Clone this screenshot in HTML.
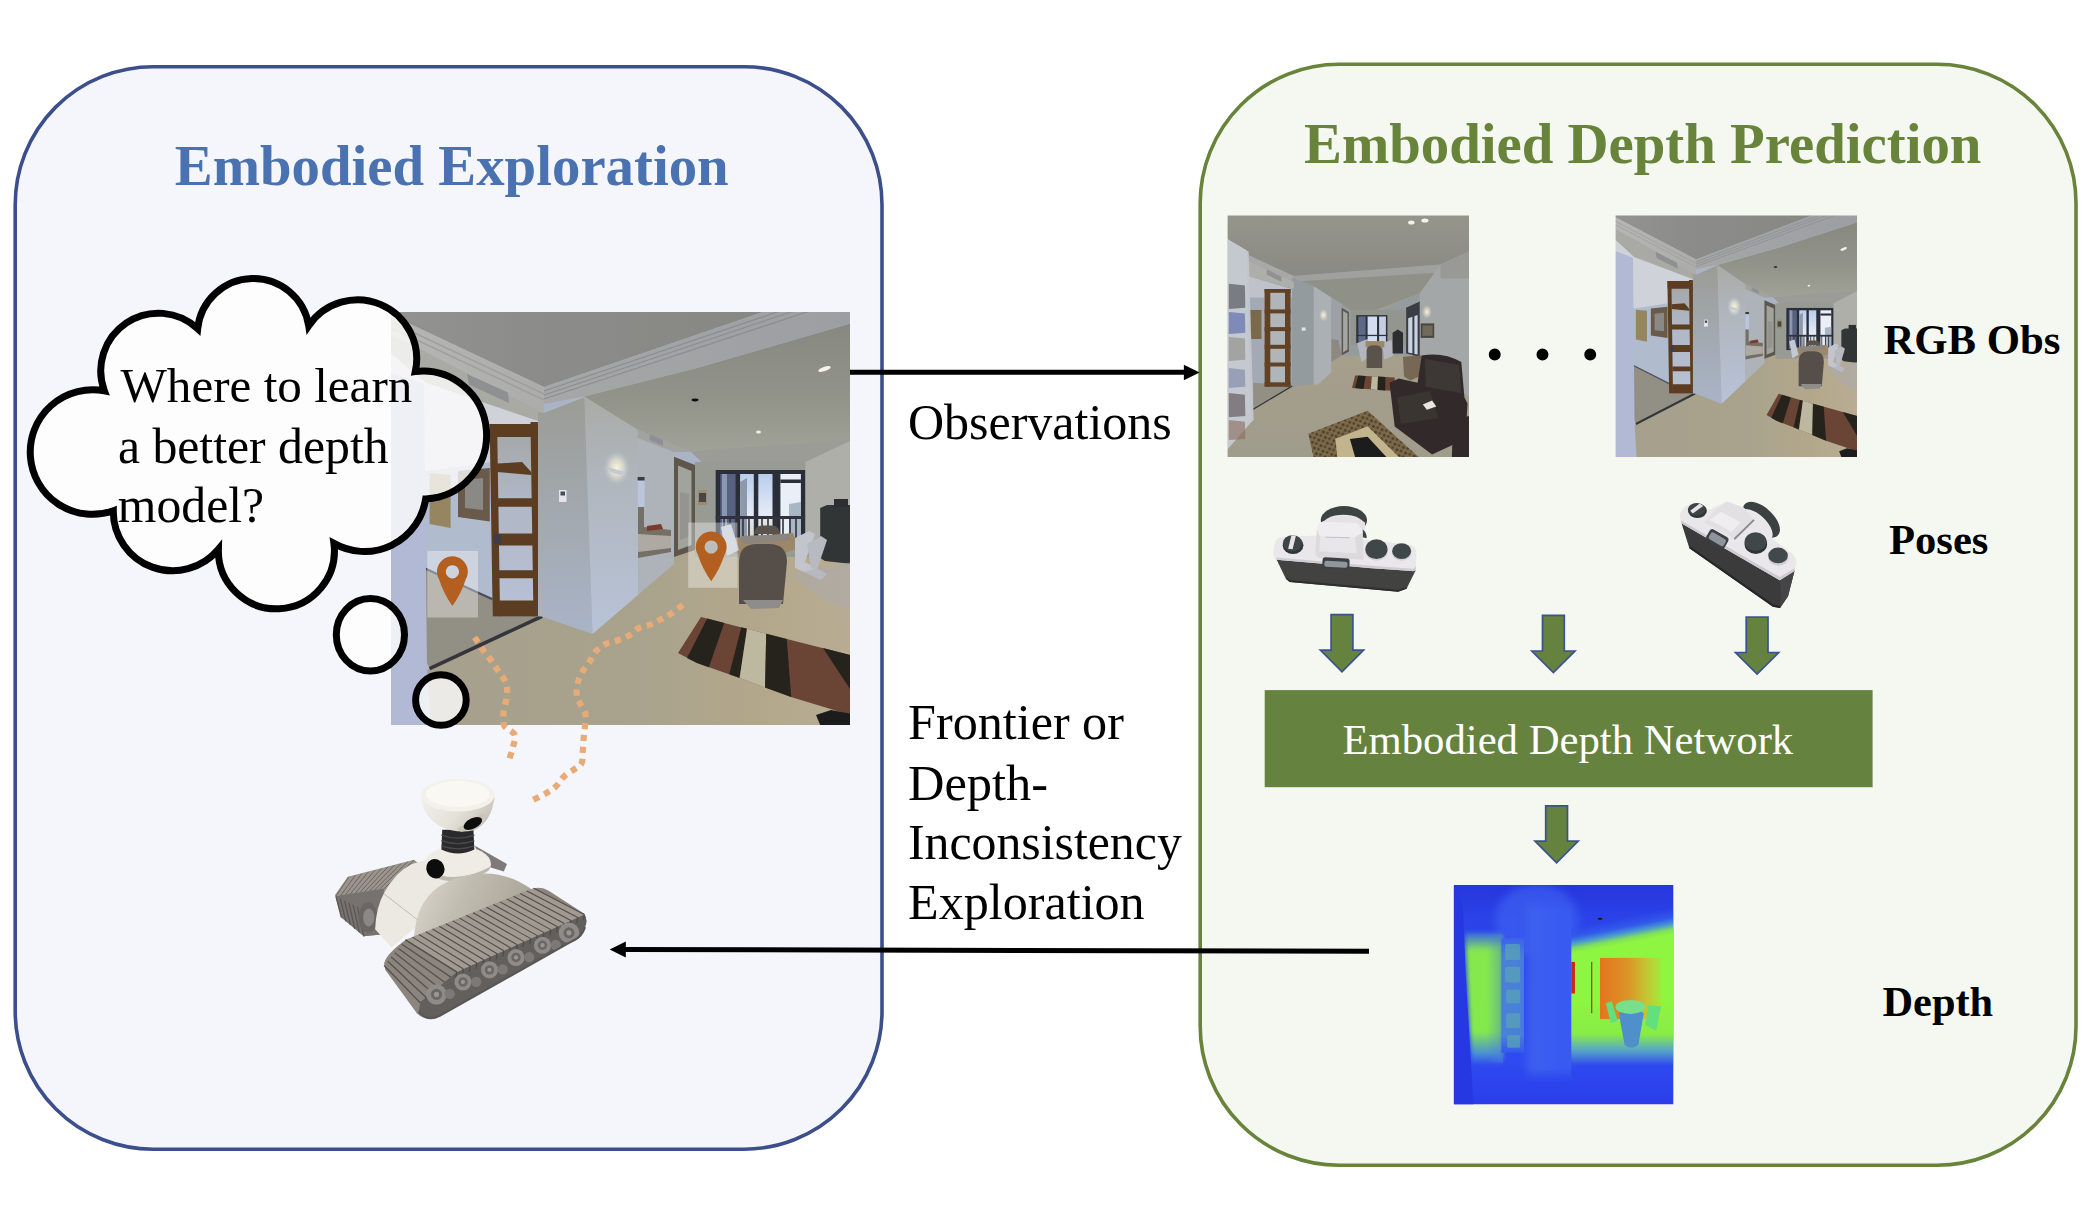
<!DOCTYPE html>
<html><head><meta charset="utf-8"><title>Embodied Exploration</title>
<style>
html,body{margin:0;padding:0;background:#fff;}
body{width:2090px;height:1216px;overflow:hidden;}
svg{display:block;}
text{font-family:"Liberation Serif","Times New Roman",serif;}
.b{font-weight:bold;}
</style></head><body>
<svg width="2090" height="1216" viewBox="0 0 2090 1216">
<defs>
<clipPath id="cpMain"><rect x="0" y="0" width="459" height="413"/></clipPath>
<filter id="soft" x="-5%" y="-5%" width="110%" height="110%"><feGaussianBlur stdDeviation="0.6"/></filter>
<filter id="soft2" x="-10%" y="-10%" width="120%" height="120%"><feGaussianBlur stdDeviation="2"/></filter>
<filter id="soft4" x="-20%" y="-20%" width="140%" height="140%"><feGaussianBlur stdDeviation="4"/></filter>
<linearGradient id="gCeil" x1="0" y1="0" x2="1" y2="0"><stop offset="0" stop-color="#939391"/><stop offset="0.35" stop-color="#8c8c8a"/><stop offset="1" stop-color="#878783"/></linearGradient>
<linearGradient id="gCeil2" x1="0" y1="0" x2="0" y2="1"><stop offset="0" stop-color="#878980"/><stop offset="0.55" stop-color="#929389"/><stop offset="1" stop-color="#a3a49a"/></linearGradient>
<linearGradient id="gCornL" x1="0" y1="0" x2="1" y2="0"><stop offset="0" stop-color="#b6b7b3"/><stop offset="1" stop-color="#acadaa"/></linearGradient>
<linearGradient id="gCornR" x1="0" y1="0" x2="1" y2="0"><stop offset="0" stop-color="#a6a7a6"/><stop offset="1" stop-color="#9c9ea3"/></linearGradient>
<linearGradient id="gFloor" x1="0" y1="0" x2="1" y2="0"><stop offset="0" stop-color="#a5a08c"/><stop offset="0.55" stop-color="#a9a38d"/><stop offset="0.8" stop-color="#b3a78b"/><stop offset="1" stop-color="#b8ad94"/></linearGradient>
<radialGradient id="gLamp"><stop offset="0" stop-color="#fbf6d8" stop-opacity="1"/><stop offset="0.5" stop-color="#eeead6" stop-opacity="0.6"/><stop offset="1" stop-color="#b6c1d4" stop-opacity="0"/></radialGradient>
<linearGradient id="gSky" x1="0" y1="0" x2="0" y2="1"><stop offset="0" stop-color="#b9cdec"/><stop offset="0.6" stop-color="#e4ebf6"/><stop offset="1" stop-color="#d8d6c8"/></linearGradient>
<clipPath id="cpSq"><rect x="0" y="0" width="241.4" height="241.4"/></clipPath>
<linearGradient id="gFloorB" x1="0" y1="0" x2="0" y2="1"><stop offset="0" stop-color="#a59f8b"/><stop offset="1" stop-color="#a09c8c"/></linearGradient>
<linearGradient id="gCeilB" x1="0" y1="0" x2="0" y2="1"><stop offset="0" stop-color="#95958b"/><stop offset="1" stop-color="#8a8a85"/></linearGradient>
<radialGradient id="gLamp2"><stop offset="0" stop-color="#fbf6d8" stop-opacity="1"/><stop offset="1" stop-color="#e8e4cc" stop-opacity="0"/></radialGradient>
<pattern id="leo" width="7" height="6" patternUnits="userSpaceOnUse" patternTransform="rotate(-20)"><circle cx="2" cy="2" r="1.500" fill="#1c1a17"/><circle cx="5.500" cy="4.500" r="1.300" fill="#1c1a17"/></pattern>
<filter id="softS" x="-5%" y="-5%" width="110%" height="110%"><feGaussianBlur stdDeviation="0.45"/></filter>
<filter id="softC" x="-5%" y="-5%" width="110%" height="110%"><feGaussianBlur stdDeviation="4"/></filter>
<clipPath id="cpD"><rect x="0" y="0" width="219.4" height="219.4"/></clipPath>
<linearGradient id="dBase" x1="0" y1="0" x2="0" y2="1"><stop offset="0" stop-color="#2636dc"/><stop offset="0.15" stop-color="#2a42e8"/><stop offset="0.8" stop-color="#2e4af0"/><stop offset="1" stop-color="#2a3eea"/></linearGradient>
<linearGradient id="dRight" x1="0" y1="0" x2="0" y2="1"><stop offset="0" stop-color="#2e48ee"/><stop offset="0.08" stop-color="#3a70e0"/><stop offset="0.2" stop-color="#7ee058"/><stop offset="0.28" stop-color="#8ef540"/><stop offset="0.78" stop-color="#8af043"/><stop offset="0.9" stop-color="#4f9ad0"/><stop offset="1" stop-color="#2e4af0"/></linearGradient>
<linearGradient id="dLeft" x1="0" y1="0" x2="0" y2="1"><stop offset="0" stop-color="#3560ea"/><stop offset="0.14" stop-color="#86e84e"/><stop offset="0.75" stop-color="#84ea4c"/><stop offset="0.92" stop-color="#4a8ed6"/><stop offset="1" stop-color="#2e4af0"/></linearGradient>
<linearGradient id="dDoor" x1="0" y1="0" x2="0" y2="1"><stop offset="0" stop-color="#3b62ec"/><stop offset="0.15" stop-color="#4a80d8"/><stop offset="0.85" stop-color="#4a80d8"/><stop offset="1" stop-color="#3358ee"/></linearGradient>
<linearGradient id="dPillar" x1="0" y1="0" x2="1" y2="0"><stop offset="0" stop-color="#3d62ee" stop-opacity="0.900"/><stop offset="0.45" stop-color="#3a5cf2"/><stop offset="0.8" stop-color="#3658f0"/><stop offset="1" stop-color="#4270ec"/></linearGradient>
<linearGradient id="dWin" x1="0" y1="0" x2="1" y2="0"><stop offset="0" stop-color="#e4741e"/><stop offset="0.45" stop-color="#dc9428"/><stop offset="0.8" stop-color="#c0cc34"/><stop offset="1" stop-color="#a0ea3c"/></linearGradient>
<filter id="softR" x="-5%" y="-5%" width="110%" height="110%"><feGaussianBlur stdDeviation="2.2"/></filter>
<linearGradient id="rbDome" x1="0" y1="0" x2="1" y2="0.3"><stop offset="0" stop-color="#dedad1"/><stop offset="0.45" stop-color="#c2bdb1"/><stop offset="1" stop-color="#a9a497"/></linearGradient>
<linearGradient id="rbHead" x1="0" y1="0" x2="1" y2="0.4"><stop offset="0" stop-color="#f2f0ea"/><stop offset="0.6" stop-color="#e4e1d8"/><stop offset="1" stop-color="#c8c4ba"/></linearGradient>
<linearGradient id="gWallA" x1="0" y1="0" x2="0" y2="1"><stop offset="0" stop-color="#9a9c95"/><stop offset="0.35" stop-color="#a0a5a8"/><stop offset="1" stop-color="#a9b4c7"/></linearGradient>
<linearGradient id="gWallB" x1="0" y1="0" x2="0" y2="1"><stop offset="0" stop-color="#a9aba6"/><stop offset="0.35" stop-color="#b0b6bd"/><stop offset="1" stop-color="#b8c3d8"/></linearGradient>
<linearGradient id="gPanel" x1="0" y1="0" x2="0" y2="1"><stop offset="0" stop-color="#a3a6a4"/><stop offset="0.4" stop-color="#b0b7c6"/><stop offset="1" stop-color="#b8c1d6"/></linearGradient>
<clipPath id="cpPil"><rect x="0" y="0" width="117.4" height="220"/></clipPath>
<linearGradient id="dRightTop" gradientUnits="userSpaceOnUse" x1="117.4" y1="41.8" x2="122.5" y2="68.1"><stop offset="0" stop-color="#3050ea" stop-opacity="0"/><stop offset="0.4" stop-color="#325cea" stop-opacity="1"/><stop offset="0.62" stop-color="#4a9ad0"/><stop offset="0.82" stop-color="#7fe058"/><stop offset="1" stop-color="#8ef540"/></linearGradient>
<linearGradient id="dRightBot" x1="0" y1="0" x2="0" y2="1"><stop offset="0" stop-color="#8ef540"/><stop offset="0.5" stop-color="#88ec46"/><stop offset="0.75" stop-color="#58a8c4"/><stop offset="1" stop-color="#2e4af0"/></linearGradient>
<linearGradient id="dLeftFade" x1="0" y1="0" x2="1" y2="0"><stop offset="0" stop-color="#4a80d8" stop-opacity="0"/><stop offset="1" stop-color="#4a80d8" stop-opacity="0.500"/></linearGradient>

<g id="room" filter="url(#soft)">
<rect x="-2" y="-2" width="463" height="417" fill="#aab4c6"/>
<!-- floor -->
<rect x="-2" y="225" width="463" height="190" fill="url(#gFloor)"/>
<!-- upper ceiling -->
<polygon points="-2,-2 378,-2 153,75 -2,2" fill="url(#gCeil)"/>
<!-- cornice left -->
<polygon points="-2,2 153,75 153,101 27,36 -2,22" fill="url(#gCornL)"/>
<path d="M-2 9 L153 82 M-2 15 L153 88" stroke="#9fa09c" stroke-width="1.500" fill="none"/>
<!-- left wall strip above door -->
<polygon points="-2,22 27,36 153,101 153,112 -2,60" fill="#a8aaa3"/>
<polygon points="76,62 117,80.500 118,91 78,72.500" fill="#8e9091"/>
<!-- lower ceiling right room -->
<polygon points="153,91 193,84.500 306,56 461,11 461,135 440,150 318,150 300,140 247,118 193,84.500" fill="url(#gCeil2)"/>
<!-- cornice right -->
<polygon points="153,75 378,-2 461,-2 461,11 306,56 193,84.500 153,92" fill="url(#gCornR)"/>
<path d="M153 79 L392 -2 M153 83 L406 -2 M153 87 L422 -2" stroke="#8c8e93" stroke-width="1.300" fill="none"/>
<!-- back beam -->
<polygon points="300,140 318,138 461,128 461,152 318,157" fill="#9b9c97"/>
<ellipse cx="304" cy="88" rx="3.500" ry="1.400" fill="#111"/>
<ellipse cx="433.500" cy="57" rx="6.500" ry="2.200" fill="#f6f4ea" transform="rotate(-18 433.500 57)"/>
<ellipse cx="367.500" cy="120" rx="2.500" ry="1.500" fill="#f0efe6"/>
<!-- left room through doorway -->
<polygon points="-2,40 35,71 147,109 147,305 38.600,356.600 -2,375" fill="#b1bbce"/>
<polygon points="-2,40 35,71 147,109 147,135 100,150 30,160 -2,160" fill="#cfd2d8"/>
<!-- paintings -->
<polygon points="38.600,161 59.600,163 59.600,216 38.600,212" fill="#958660"/>
<polygon points="67,159 98.800,156 98.800,209.500 67,205" fill="#6a5a48"/>
<polygon points="74,168 92,166 92,198 74,196" fill="#8a8986"/>
<!-- left room floor -->
<polygon points="33,256 102,287.500 147,303 151,304.400 38.600,356.600 33,345" fill="#928f84"/>
<path d="M38.600 356.600 L151 304.400" stroke="#34343a" stroke-width="3.600"/>
<path d="M33 256 L102 287.500" stroke="#4a4d5a" stroke-width="2.200"/>
<!-- near left wall strip -->
<polygon points="-2,60 33,72 36,356 40,415 -2,415" fill="#b1b9d4"/>
<!-- door -->
<g transform="matrix(1 0 0.0156 1 -1.25 0)">
<rect x="98.200" y="112" width="48.200" height="192.400" fill="url(#gPanel)"/>
<g fill="#5b3d21">
<rect x="98.200" y="112" width="7.400" height="192.400"/>
<rect x="139" y="110" width="7.400" height="194.400"/>
<rect x="98.200" y="112" width="48" height="13"/>
<polygon points="105,151.600 130,150 139,160 139,163 105,160"/>
<rect x="105" y="186.200" width="35" height="8.600"/>
<rect x="105" y="221.400" width="35" height="12"/>
<rect x="105" y="258.300" width="35" height="8"/>
<rect x="105" y="288.500" width="35" height="16"/>
</g>
<rect x="100.500" y="222.600" width="7.300" height="9.600" fill="#3c3d44"/>
</g>
<!-- wall right of door -->
<polygon points="147,100 153,101 194,85 201.500,322 151,304.400 147,304" fill="url(#gWallA)"/>
<rect x="168" y="178" width="7.500" height="12" fill="#e4e5ea"/><rect x="169.500" y="179.500" width="4.500" height="4" fill="#4a4c52"/>
<!-- pillar front -->
<polygon points="193.300,84.600 246.600,118 247.200,282.800 201.500,322" fill="url(#gWallB)"/>
<ellipse cx="225.600" cy="156" rx="14" ry="18" fill="url(#gLamp)"/>
<polygon points="216,155 234,160 230,163 220,160" fill="#c2c8d4"/>
<!-- alcove -->
<polygon points="246.600,118 283,134 283,252 247.200,282.800" fill="#aeb2b9"/>
<polygon points="246.600,118 259,122 300,140 283,140 246.600,126" fill="#a2a39e"/>
<polygon points="258.600,122 272,128 272,134 258.600,128" fill="#8e9098"/>
<rect x="246.600" y="165" width="7" height="30" fill="#b9c6dc"/><rect x="246.600" y="165" width="7" height="3.500" fill="#3e3a38"/>
<polygon points="247,195 253,195 253,215 280,218 280,240 247,246" fill="#756f66"/>
<polygon points="247,222 280,224 280,236 247,240" fill="#aeaaa3"/>
<polygon points="256,214 270,212 272,217 256,219" fill="#7a3a2e"/>
<!-- mirror -->
<polygon points="283,144.800 304,153 304,238 283,245" fill="#5e574c"/>
<polygon points="287,153.500 300.500,159 300.500,233 287,238" fill="#a0a49c"/>
<polygon points="289,180 298,182 298,225 289,228" fill="#8e8f8d" opacity="0.700"/>
<!-- back wall right room -->
<polygon points="304,150 461,150 461,245 304,245" fill="#989a94"/>
<rect x="307" y="178" width="9" height="15" fill="#9a8b70"/><rect x="308" y="181" width="7" height="9" fill="#4a4540"/>
<!-- windows -->
<rect x="324.700" y="158" width="89.700" height="72" fill="#2a2d39"/>
<rect x="329.300" y="162" width="15.300" height="66" fill="#56627f"/>
<rect x="331" y="162" width="5" height="66" fill="#aebbd4" opacity="0.600"/>
<rect x="349.100" y="162" width="13.700" height="66" fill="url(#gSky)"/>
<polygon points="349.100,170 356,166 356,228 349.100,228" fill="#8d98ab"/>
<rect x="367.300" y="162" width="14.200" height="66" fill="url(#gSky)"/>
<rect x="389.400" y="162" width="20.500" height="66" fill="#e9eef7"/>
<rect x="389.400" y="167.500" width="20.500" height="3.500" fill="#2a2d39"/>
<polygon points="398,192 410,190 410,228 398,228" fill="#a9b6c6"/>
<rect x="324.700" y="204" width="89.700" height="3" fill="#30333d"/>
<path d="M333 206 V229 M339 206 V229 M345 206 V229 M352 206 V229 M358 206 V229 M364 206 V229 M371 206 V229 M377 206 V229 M385 206 V229 M392 206 V229 M399 206 V229 M405 206 V229" stroke="#30333d" stroke-width="1.600"/>
<!-- right wall -->
<polygon points="414.400,150 461,128 461,250 414.400,232" fill="#aeafa9"/>
<!-- cabinet -->
<polygon points="429.200,196 436,193 461,193 461,252 434,249 429.200,246" fill="#333436"/>
<rect x="443" y="187" width="14" height="8" fill="#2f2f33"/>
<!-- floor far right near cabinet -->
<!-- table & chairs -->
<polygon points="340,226 402,221 408,236 372,248 338,240" fill="#9c8768"/>
<polygon points="350,224 398,222 400,228 352,232" fill="#8a857e"/>
<path d="M363 222 Q363 213.500 372 213.500 H380 Q389 213.500 389 222 Z" fill="#5a534c"/>
<polygon points="404,226 418,219 424,222 414,250 436,262 430,268 404,256" fill="#c3c5cc"/>
<polygon points="416,232 430,224 436,228 426,258 420,256" fill="#b8bac2"/>
<polygon points="330,215 340,212 348,238 336,244" fill="#c2c8d4"/>
<path d="M348 292 V250 Q348 232 366 232 H378 Q396 232 396 250 L392 292 Z" fill="#57504a"/>
<polygon points="352,288 392,288 388,296 360,297" fill="#8f8d8c"/>
<!-- floor highlights right -->
<polygon points="400,262 461,250 461,300 430,286" fill="#a9a9b4" opacity="0.450"/>
<!-- rug -->
<g>
<polygon points="310,305 374,321.400 461,343.500 461,403.500 400,385 348,365.700 306,351 287,341" fill="#6a4434"/>
<polygon points="316.200,306.600 333.200,311 317.900,355.200 306,351 296,346" fill="#25231f"/>
<polygon points="350.300,315.300 356,316.800 348.600,366 338.300,362.300" fill="#25231f"/>
<polygon points="356,316.800 375.200,321.700 374.100,375.500 348.600,366" fill="#bdb8a0"/>
<polygon points="375.200,321.700 395.700,326.900 400.200,385 374.100,375.500" fill="#25231f"/>
<polygon points="432,336 461,343.500 461,380" fill="#25231f"/>
</g>
<polygon points="425,403 440,398 461,402 461,415 430,415" fill="#1d1d1f"/>
</g>

</defs>
<rect width="2090" height="1216" fill="#fff"/>
<!-- panels -->
<rect x="15.2" y="66.7" width="866.8" height="1082.5" rx="138" ry="138" fill="#f5f6fb" stroke="#3c4f8c" stroke-width="3.6"/>
<rect x="1200.2" y="64.3" width="875.8" height="1101" rx="139" ry="139" fill="#f5f8f0" stroke="#68843b" stroke-width="3.6"/>
<!-- titles -->
<text class="b" x="174.8" y="185.3" font-size="56.8" fill="#4a72b0">Embodied Exploration</text>
<text class="b" x="1304.0" y="162.9" font-size="56.8" fill="#68843b">Embodied Depth Prediction</text>
<!--MAINPHOTO-->
<g transform="translate(391,312)" clip-path="url(#cpMain)">
<use href="#room"/>
<rect x="36.3" y="239" width="50.7" height="66.5" fill="#fff" fill-opacity="0.36"/>
<rect x="297.2" y="210.6" width="49.3" height="65.2" fill="#fff" fill-opacity="0.36"/>
<path fill="#b35f20" fill-rule="evenodd" d="M61.4 294.1 Q52.5 281.3 48.1 267.5 A15.4 15.4 0 1 1 74.7 267.5 Q70.3 281.3 61.4 294.1 Z M61.4 253.2 a6.6 6.6 0 1 0 0.01 0 Z"/>
<path fill="#b35f20" fill-rule="evenodd" d="M320.2 269.3 Q311.3 256.5 306.9 242.7 A15.4 15.4 0 1 1 333.5 242.7 Q329.1 256.5 320.2 269.3 Z M320.2 228.4 a6.6 6.6 0 1 0 0.01 0 Z"/>
</g>
<!--/MAINPHOTO-->
<!--PATHS-->
<path d="M474.6 637.3 C476.0 639.3 480.0 645.7 482.7 649.5 C485.4 653.3 488.2 656.4 490.9 660.1 C493.6 663.8 496.2 668.0 498.8 671.9 C501.4 675.8 505.0 679.5 506.3 683.7 C507.6 687.9 507.1 692.5 506.7 697.1 C506.3 701.7 504.1 706.7 503.7 711.4 C503.3 716.1 502.2 721.4 504.1 725.3 C506.0 729.2 513.4 731.1 514.8 734.9 C516.2 738.6 513.8 743.0 512.7 747.8 C511.6 752.6 508.7 760.9 507.9 763.5" fill="none" stroke="#e8ab78" stroke-width="6.200" stroke-dasharray="6.200 5.700"/>
<path d="M682.8 604.9 C681.0 606.3 675.5 610.7 671.9 613.1 C668.3 615.5 664.8 617.2 661.2 619.1 C657.6 621.0 654.2 623.0 650.5 624.5 C646.8 626.0 642.5 626.2 638.8 628.1 C635.1 630.0 631.7 633.9 628.1 636.0 C624.5 638.1 620.8 639.1 617.0 640.5 C613.2 641.9 609.2 642.2 605.6 644.1 C602.0 646.0 598.3 648.6 595.6 651.6 C592.9 654.6 591.5 658.8 589.2 662.3 C587.0 665.8 584.1 668.6 582.1 672.3 C580.1 676.0 578.3 680.3 577.4 684.3 C576.5 688.3 576.4 693.3 576.8 696.5 C577.2 699.7 578.6 700.6 580.0 703.5 C581.4 706.4 584.5 709.8 585.3 713.6 C586.1 717.4 585.2 722.2 584.9 726.4 C584.6 730.6 584.0 734.7 583.6 738.8 C583.2 742.9 583.1 746.9 582.8 751.0 C582.4 755.1 583.0 760.3 581.5 763.4 C580.0 766.5 576.6 767.5 573.6 769.8 C570.6 772.1 566.5 774.1 563.5 777.0 C560.5 779.9 558.4 784.2 555.4 786.9 C552.4 789.6 549.7 791.0 545.8 793.3 C541.9 795.6 534.3 799.3 532.0 800.5" fill="none" stroke="#e8ab78" stroke-width="6.200" stroke-dasharray="6.200 5.700"/>
<!--/PATHS-->
<g>
<path d="M104.4 390.9 A57.6 57.6 0 0 1 197.7 328.7 A56.0 56.0 0 0 1 308.7 325.7 A59.1 59.1 0 0 1 415.3 371.6 A63.9 63.9 0 1 1 425.7 498.9 A61.9 61.9 0 0 1 333.9 543.4 A58.0 58.0 0 1 1 218.4 549.3 A59.4 59.4 0 0 1 113.3 510.8 A62.3 62.3 0 1 1 104.4 390.9Z" fill="#fff" fill-opacity="0.78" stroke="#000" stroke-width="7" stroke-linejoin="miter" stroke-miterlimit="10"/>
<ellipse cx="370.4" cy="634.8" rx="34.1" ry="36.2" fill="#fff" fill-opacity="0.78" stroke="#000" stroke-width="7"/>
<ellipse cx="440.9" cy="700" rx="25.3" ry="25.3" fill="#fff" fill-opacity="0.78" stroke="#000" stroke-width="7"/>
</g>
<text x="120.5" y="402.3" font-size="49.14">Where to learn</text>
<text x="117.9" y="463.2" font-size="49.76">a better depth</text>
<text x="117.8" y="521.9" font-size="49.7">model?</text>
<!-- middle -->
<text x="907.9" y="438.6" font-size="50.03">Observations</text>
<text x="908.1" y="739.3" font-size="50.13">Frontier or</text>
<text x="908.0" y="799.6" font-size="50.43">Depth-</text>
<text x="907.9" y="859.0" font-size="49.82">Inconsistency</text>
<text x="908.1" y="918.6" font-size="50.11">Exploration</text>
<!-- arrows -->
<path d="M850 372.3 H1186" stroke="#000" stroke-width="5" fill="none"/>
<path d="M1199.6 372.4 L1183.9 364.7 L1183.9 380.2 Z" fill="#000"/>
<path d="M1369 951.3 L624 949.500" stroke="#000" stroke-width="5" fill="none"/>
<path d="M609.700 949.500 L625.800 941.500 L625.800 957.500 Z" fill="#000"/>
<!--RGB1-->
<g transform="translate(1227.6,215.6)" clip-path="url(#cpSq)">
<g filter="url(#softS)">
<rect x="-1" y="-1" width="243.4" height="243.4" fill="#959c9f"/>
<polygon points="0.0,140.0 241.4,140.0 241.4,241.4 0.0,241.4" fill="url(#gFloorB)" />
<polygon points="0.0,0.0 241.4,0.0 241.4,36.0 212.9,48.9 66.2,60.5 15.2,37.0 0.0,25.6" fill="url(#gCeilB)" />
<polygon points="66.2,60.5 212.9,48.9 212.9,56.8 66.2,66.2" fill="#a0a19f" />
<polygon points="15.2,37.0 66.2,60.5 66.2,66.2 19.4,44.3" fill="#a8a9a6" />
<polygon points="66.2,66.2 212.9,56.8 192.1,77.6 148.4,94.3 123.4,94.3 85.9,70.3" fill="#8f9088" />
<polygon points="85.9,70.3 123.4,94.3 148.4,94.3 192.1,77.6 181.6,81.8 148.4,98.4 127.5,98.4 103.6,81.8" fill="#9c9d95" />
<polygon points="212.9,48.9 241.4,36.0 241.4,181.6 192.1,144.2 192.1,77.6" fill="#a3a7a8" />
<polygon points="212.9,48.9 241.4,36.0 241.4,63.0 212.9,63.0" fill="#999a96" />
<ellipse cx="199.3" cy="96.3" rx="5" ry="7" fill="url(#gLamp2)"/>
<polygon points="193.1,107.8 206.6,107.8 206.6,122.3 193.1,122.3" fill="#4a463f" />
<polygon points="194.8,109.9 205.0,109.9 205.0,120.3 194.8,120.3" fill="#6f6a5a" />
<polygon points="178.5,92.2 192.1,85.9 192.1,141.1 178.5,138.0" fill="#3a3c44" />
<polygon points="180.6,102.6 190.0,99.5 190.0,139.0 180.6,136.9" fill="#c9d3e4" />
<polygon points="184.8,98.4 186.8,97.8 186.8,140.0 184.8,139.6" fill="#3a3c44" />
<polygon points="123.4,94.3 178.5,94.3 178.5,129.6 123.4,129.6" fill="#93958f" />
<polygon points="128.6,99.5 159.8,99.5 159.8,127.5 128.6,127.5" fill="#2f323c" />
<polygon points="130.7,100.9 138.0,100.9 138.0,126.5 130.7,126.5" fill="#5d6a86" />
<polygon points="140.0,100.9 149.4,100.9 149.4,126.5 140.0,126.5" fill="#d3dff0" />
<polygon points="151.5,100.9 158.3,100.9 158.3,126.5 151.5,126.5" fill="#c4d0e2" />
<polygon points="128.6,119.2 159.8,119.2 159.8,120.5 128.6,120.5" fill="#2f323c" />
<polygon points="103.6,81.8 114.0,88.0 114.0,140.0 103.6,146.3" fill="#9da1a6" />
<polygon points="114.0,92.2 121.3,96.3 121.3,135.9 114.0,140.0" fill="#5e574c" />
<polygon points="115.5,95.3 119.9,97.8 119.9,133.8 115.5,136.9" fill="#a3a79f" />
<polygon points="103.6,123.4 110.9,124.4 114.0,140.0 103.6,146.3" fill="#8d8982" />
<polygon points="85.9,70.3 103.6,81.8 103.6,156.7 90.1,169.2 85.9,168.7" fill="#abb0b5" />
<ellipse cx="95.9" cy="99.5" rx="4.500" ry="6.500" fill="url(#gLamp2)"/>
<polygon points="64.1,62.0 85.9,70.3 85.9,168.7 64.1,171.2" fill="#949b9e" />
<polygon points="74.1,111.9 78.0,111.9 78.0,115.1 74.1,115.1" fill="#e0e2e8" />
<polygon points="19.4,44.3 66.2,66.2 66.2,73.4 21.4,61.0" fill="#aeafab" />
<polygon points="39.1,53.7 53.7,61.0 53.7,66.2 39.1,58.9" fill="#8f9192" />
<polygon points="21.4,61.0 64.1,73.4 64.1,171.2 25.6,194.1 21.4,194.1" fill="#a3aab6" />
<polygon points="21.4,61.0 64.1,73.4 64.1,81.8 21.4,81.8" fill="#bfc2c8" />
<polygon points="22.5,94.3 33.9,94.3 33.9,123.4 22.5,123.4" fill="#7a6a4c" />
<polygon points="25.6,167.1 64.1,170.2 64.1,171.2 25.6,194.1" fill="#928f84" />
<polyline points="25.6,193.7 64.7,170.4" fill="none" stroke="#2e2f35" stroke-width="1.2"/>
<polygon points="37.0,73.4 63.0,73.4 63.0,171.2 37.0,171.2" fill="#b0b5ba" />
<polygon points="37.0,73.4 42.7,73.4 42.7,171.2 37.0,171.2" fill="#624325" />
<polygon points="57.4,73.4 63.0,73.4 63.0,171.2 57.4,171.2" fill="#624325" />
<polygon points="37.0,73.4 63.0,73.4 63.0,77.2 37.0,77.2" fill="#624325" />
<polygon points="37.0,93.8 63.0,93.8 63.0,97.8 37.0,97.8" fill="#624325" />
<polygon points="37.0,111.5 63.0,111.5 63.0,115.5 37.0,115.5" fill="#624325" />
<polygon points="37.0,129.2 63.0,129.2 63.0,133.2 37.0,133.2" fill="#624325" />
<polygon points="37.0,146.9 63.0,146.9 63.0,150.9 37.0,150.9" fill="#624325" />
<polygon points="37.0,166.7 63.0,166.7 63.0,171.2 37.0,171.2" fill="#624325" />
<polygon points="0.0,23.5 19.4,35.0 25.6,204.5 0.0,233.7" fill="#c4c8cf" />
<polygon points="1.2,68.2 17.3,69.9 17.7,92.2 1.2,93.4" fill="#4a4a52" opacity="0.600"/>
<polygon points="1.2,96.3 17.3,98.0 17.7,117.1 1.2,118.4" fill="#5060a8" opacity="0.600"/>
<polygon points="1.2,121.3 17.3,123.0 17.7,144.2 1.2,145.4" fill="#8d8a82" opacity="0.600"/>
<polygon points="1.2,152.5 17.3,154.2 17.7,171.2 1.2,172.5" fill="#7c86a8" opacity="0.600"/>
<polygon points="1.2,177.5 17.3,179.2 17.7,200.4 1.2,201.6" fill="#5a4a50" opacity="0.600"/>
<polygon points="1.2,204.5 17.3,206.2 17.7,223.3 1.2,224.5" fill="#8a6a5a" opacity="0.600"/>
<polygon points="18.9,35.0 21.0,36.0 26.0,204.5 23.5,206.6" fill="#c2c5cc" />
<polygon points="129.6,127.5 140.0,123.4 144.2,140.0 133.8,146.3" fill="#b3b6be" />
<polygon points="154.6,127.5 164.0,124.4 166.0,140.0 156.7,144.2" fill="#b3b6be" />
<polygon points="138.0,125.5 156.7,125.5 156.7,131.7 138.0,131.7" fill="#9c8768" />
<path d="M139.0 152.5 V134.8 Q139.0 129.6 146.7 129.6 Q154.6 129.6 154.6 134.8 V152.5 Z" fill="#5a534c"/>
<polygon points="165.0,117.1 170.2,114.0 175.4,117.1 175.4,138.0 165.0,138.0" fill="#2f2f32" />
<polygon points="127.5,159.8 167.1,161.9 167.1,175.4 124.4,172.3" fill="#6a4434" />
<polygon points="130.7,160.0 138.0,160.4 135.9,173.3 127.5,172.5" fill="#25231f" />
<polygon points="144.2,160.8 150.4,161.0 150.0,174.4 143.2,173.7" fill="#bdb8a0" />
<polygon points="150.4,161.0 157.7,161.5 157.7,175.0 150.0,174.4" fill="#25231f" />
<polygon points="175.4,141.1 194.1,140.0 196.2,158.8 182.7,165.0 176.4,160.8" fill="#776854" />
<path d="M194.1 140.0 Q214.9 135.9 233.7 146.3 L236.8 181.6 L239.9 187.9 L237.8 223.3 L204.5 238.9 L167.1 210.8 L161.9 167.1 L171.2 162.9 L190.0 167.1 Z" fill="#302b29"/>
<polygon points="197.3,143.2 231.6,149.4 233.7,177.5 198.3,171.2" fill="#3e3834" />
<polygon points="169.2,181.6 202.5,175.4 210.8,202.5 173.3,208.7" fill="#3a3431" />
<polygon points="195.2,188.9 204.5,184.8 208.7,191.0 199.3,194.1" fill="#e8e6e2" />
<polygon points="225.3,204.5 241.4,200.4 241.4,241.4 224.3,241.4" fill="#332c29" />
<polygon points="80.7,218.1 140.0,195.2 191.0,241.4 85.9,241.4" fill="#7d6a48" />
<polygon points="107.8,223.3 140.0,210.8 171.2,241.4 109.9,241.4" fill="#c2b58e" />
<polygon points="122.3,223.3 140.0,221.2 158.8,241.4 127.5,241.4" fill="#1f1d1c" />
<polygon points="80.7,218.1 140.0,195.2 191.0,241.4 85.9,241.4" fill="url(#leo)" opacity="0.550"/>
<polygon points="107.8,223.3 140.0,210.8 171.2,241.4 109.9,241.4" fill="#c2b58e" />
<polygon points="122.3,223.3 140.0,221.2 158.8,241.4 127.5,241.4" fill="#1f1d1c" />
<ellipse cx="183.7" cy="6.9" rx="3.200" ry="2" fill="#f4f2ea"/><ellipse cx="197.3" cy="4.8" rx="3.600" ry="2" fill="#f4f2ea"/>
</g>
</g>
<!--/RGB1-->
<!--RGB2-->
<g transform="translate(1615.6,215.6)" clip-path="url(#cpSq)">
<use href="#room" transform="scale(0.526,0.5845)"/>
</g>
<!--/RGB2-->
<text class="b" x="1485.6" y="359.7" font-size="73.75">.</text><text class="b" x="1533.2" y="359.7" font-size="73.75">.</text><text class="b" x="1581.0" y="359.7" font-size="73.75">.</text>
<text class="b" x="1883.5" y="353.9" font-size="42.74">RGB Obs</text>
<text class="b" x="1889.1" y="553.9" font-size="42.57">Poses</text>
<text class="b" x="1882.5" y="1015.8" font-size="42.37">Depth</text>
<!--CAMS-->
<g transform="translate(1260,490) scale(0.09869)" filter="url(#softC)">
<!-- lens -->
<ellipse cx="850" cy="305" rx="235" ry="142" fill="#3c4242"/>
<ellipse cx="845" cy="362" rx="218" ry="112" fill="#e9e7ea"/>
<path d="M630 330 Q850 200 1065 330 L1060 480 L640 480 Z" fill="#e4e2e5"/>
<path d="M1040 400 Q1085 430 1080 490 L1040 480 Z" fill="#3c4242"/>
<!-- body -->
<polygon points="165,700 1578,812 1485,1000 1400,1032 300,932 262,900" fill="#434241"/>
<polygon points="262,900 300,932 1400,1032 1485,1000 1480,985 1398,1012 302,912 268,885" fill="#2d2d2e"/>
<!-- top plate -->
<path d="M135 625 Q140 500 200 478 L560 462 L1050 500 L1540 560 Q1590 590 1585 640 L1580 790 Q1575 825 1540 822 L1100 790 L640 748 L165 708 Q130 690 135 625 Z" fill="#e9e7ea"/>
<path d="M165 708 L640 748 L1100 790 L1540 822 Q1575 825 1580 790 L1580 770 Q1570 800 1540 798 L1100 766 L640 724 L168 684 Z" fill="#cfccd2"/>
<!-- prism -->
<path d="M560 650 L575 400 Q590 330 640 320 L980 335 Q1030 380 1040 430 L1050 705 L600 690 Z" fill="#dcdadd"/>
<path d="M600 620 L610 470 L960 480 L985 640 Z" fill="#e8e6e9"/>
<path d="M665 465 L905 472 L905 490 L665 483 Z" fill="#c4c2c8"/>
<path d="M575 400 Q590 330 640 320 L980 335 Q1030 380 1040 430 L960 480 L610 470 Z" fill="#efedf0"/>
<!-- latch -->
<rect x="632" y="688" width="275" height="112" rx="28" fill="#3b4146" transform="rotate(3 770 745)"/>
<rect x="652" y="722" width="235" height="62" rx="22" fill="#8f969c" transform="rotate(3 770 745)"/>
<!-- dials -->
<ellipse cx="335" cy="560" rx="105" ry="88" fill="#2f3436"/>
<ellipse cx="330" cy="540" rx="98" ry="82" fill="#3d4446"/>
<polygon points="318,462 365,462 330,600 285,596" fill="#e6e4e8"/>
<ellipse cx="1180" cy="618" rx="115" ry="98" fill="#d3d0d6"/>
<ellipse cx="1180" cy="600" rx="112" ry="100" fill="#40474a"/>
<ellipse cx="1435" cy="636" rx="98" ry="80" fill="#d3d0d6"/>
<ellipse cx="1435" cy="620" rx="96" ry="80" fill="#40474a"/>
</g>
<g transform="translate(1660,480) scale(0.11517)" filter="url(#softC)">
<!-- lens -->
<g transform="rotate(-47 880 345)">
<ellipse cx="880" cy="345" rx="105" ry="198" fill="#3b4140"/>
</g>
<g transform="rotate(-47 832 393)">
<ellipse cx="832" cy="393" rx="92" ry="180" fill="#e9e7ea"/>
</g>
<polygon points="815,340 905,440 910,485 845,430" fill="#3b4140"/>
<!-- body -->
<polygon points="185,370 1040,868 1168,788 1112,1010 1042,1112 980,1100 255,592" fill="#3b3b3b"/>
<polygon points="255,592 980,1100 1042,1112 1050,1095 985,1082 262,575" fill="#26282c"/>
<polygon points="1040,868 1168,788 1112,1010 1042,1112 1050,1000" fill="#454546"/>
<!-- top plate -->
<path d="M170 300 Q200 230 250 215 L345 198 L425 262 L580 185 L725 238 L835 335 L990 520 L1160 650 Q1190 690 1185 720 L1168 790 L1040 870 L185 375 Z" fill="#e9e7ea"/>
<path d="M185 375 L1040 870 L1168 790 L1172 765 L1040 842 L180 350 Z" fill="#cdcad0"/>
<!-- prism -->
<path d="M380 370 L480 265 L580 188 L725 238 L810 340 L640 505 Z" fill="#e2e0e3"/>
<path d="M430 345 L530 275 L700 370 L620 450 Z" fill="#efedf0"/>
<path d="M810 340 L640 505 L650 520 L822 352 Z" fill="#8d8b90"/>
<!-- latch -->
<g transform="rotate(30 495 510)"><rect x="405" y="455" width="185" height="110" rx="28" fill="#3a4045"/><rect x="425" y="478" width="150" height="68" rx="22" fill="#8d949b"/></g>
<!-- dials -->
<ellipse cx="325" cy="268" rx="82" ry="62" fill="#2f3436"/>
<ellipse cx="318" cy="255" rx="75" ry="55" fill="#3d4446"/>
<polygon points="345,205 375,225 285,290 262,268" fill="#e6e4e8"/>
<ellipse cx="832" cy="555" rx="98" ry="88" fill="#2e3335"/>
<ellipse cx="830" cy="535" rx="95" ry="82" fill="#40474a"/>
<ellipse cx="1028" cy="672" rx="88" ry="72" fill="#cfccd2"/>
<ellipse cx="1025" cy="655" rx="85" ry="68" fill="#434a4d"/>
</g>
<!--/CAMS-->

<!--GARROWS-->
<path d="M1331.1 614.6 H1352.9 V650.2 H1363.6 L1342.0 671.8 L1320.4 650.2 H1331.1 Z" fill="#65823e" stroke="#3b5291" stroke-width="1.7" stroke-linejoin="miter"/>
<path d="M1542.5 615.4 H1564.3 V651.0 H1575.0 L1553.4 672.6 L1531.8 651.0 H1542.5 Z" fill="#65823e" stroke="#3b5291" stroke-width="1.7" stroke-linejoin="miter"/>
<path d="M1746.2 617.0 H1768.0 V652.5 H1778.7 L1757.1 674.1 L1735.5 652.5 H1746.2 Z" fill="#65823e" stroke="#3b5291" stroke-width="1.7" stroke-linejoin="miter"/>
<path d="M1545.7 805.9 H1567.5 V841.2 H1578.2 L1556.6 862.8 L1535.0 841.2 H1545.7 Z" fill="#65823e" stroke="#3b5291" stroke-width="1.7" stroke-linejoin="miter"/>
<!--/GARROWS-->
<rect x="1264.7" y="690.1" width="607.9" height="97.1" fill="#65823e"/>
<text x="1342.4" y="754.1" font-size="42.73" fill="#fff">Embodied Depth Network</text>
<!--DEPTH-->
<g transform="translate(1453.9,884.9)" clip-path="url(#cpD)">
<rect x="-1" y="-1" width="221.4" height="221.4" fill="url(#dBase)"/>
<ellipse cx="82.9" cy="35.5" rx="42" ry="36" fill="#3d60f2" opacity="0.700" filter="url(#soft4)"/>
<g filter="url(#soft2)"><polygon points="10.9,47.4 49.3,47.4 49.3,179.6 17.8,179.6" fill="url(#dLeft)" /></g>
<polygon points="32.6,49.3 49.3,49.3 49.3,177.6 32.6,177.6" fill="url(#dLeftFade)" />
<g filter="url(#soft)"><rect x="47.4" y="53.3" width="22.7" height="114.5" fill="url(#dDoor)" />
<rect x="51.3" y="59.2" width="14.8" height="15.8" rx="1.500" fill="#58a0b8" opacity="0.800"/>
<rect x="51.3" y="81.9" width="14.8" height="15.8" rx="1.500" fill="#58a0b8" opacity="0.800"/>
<rect x="52.3" y="104.6" width="13.8" height="13.8" rx="1.500" fill="#58a0b8" opacity="0.800"/>
<rect x="52.3" y="128.3" width="13.8" height="14.8" rx="1.500" fill="#58a0b8" opacity="0.800"/>
<rect x="53.3" y="150.0" width="12.8" height="12.8" rx="1.500" fill="#58a0b8" opacity="0.800"/>
</g>
<g clip-path="url(#cpPil)"><g filter="url(#soft4)"><polygon points="73.0,17.8 128.3,25.7 128.3,189.5 73.0,189.5" fill="url(#dPillar)" /></g></g>
<polygon points="117.4,29.6 219.5,9.9 219.5,118.4 117.4,118.4" fill="url(#dRightTop)" />
<rect x="117.4" y="118.0" width="102.0" height="62.6" fill="url(#dRightBot)" />
<g filter="url(#soft)"><rect x="146.1" y="73.0" width="61.2" height="61.2" fill="url(#dWin)" /></g>
<rect x="117.4" y="77.0" width="3.6" height="31.6" fill="#cc2410" />
<rect x="137.2" y="77.0" width="1.2" height="51.3" fill="#a83818" />
<g filter="url(#soft)"><polygon points="-2.0,-2.0 8.9,19.7 11.8,88.8 19.7,221.1 -2.0,221.1" fill="#2538e2" /></g>
<g filter="url(#soft)">
<polygon points="152.0,118.4 157.9,116.4 163.8,136.2 156.9,138.2" fill="#62e07c" />
<polygon points="194.4,120.4 207.2,121.4 202.3,146.1 191.4,140.1" fill="#62e07c" />
<path d="M164.8 128.3 Q177.6 120.4 189.9 128.3 L184.5 159.9 Q177.6 165.8 170.7 159.9 Z" fill="#4f8fcc"/>
<ellipse cx="176.6" cy="122.0" rx="15" ry="7" fill="#7adf8c"/>
</g>
<ellipse cx="146.1" cy="33.9" rx="2.200" ry="1" fill="#200808"/>
</g>
<!--/DEPTH-->
<!--ROBOT-->
<g transform="translate(320,770) scale(0.21372)" filter="url(#softR)">
<polygon points="70,585 130,500 440,420 470,445 310,560 285,770 205,778 100,690" fill="#9c958d"/>
<line x1="135" y1="500" x2="75" y2="590" stroke="#625e5c" stroke-width="4"/>
<line x1="166" y1="492" x2="98" y2="586" stroke="#625e5c" stroke-width="4"/>
<line x1="196" y1="484" x2="120" y2="583" stroke="#625e5c" stroke-width="4"/>
<line x1="226" y1="477" x2="142" y2="580" stroke="#625e5c" stroke-width="4"/>
<line x1="257" y1="469" x2="165" y2="576" stroke="#625e5c" stroke-width="4"/>
<line x1="288" y1="461" x2="188" y2="572" stroke="#625e5c" stroke-width="4"/>
<line x1="318" y1="453" x2="210" y2="569" stroke="#625e5c" stroke-width="4"/>
<line x1="348" y1="445" x2="232" y2="566" stroke="#625e5c" stroke-width="4"/>
<line x1="379" y1="438" x2="255" y2="562" stroke="#625e5c" stroke-width="4"/>
<line x1="410" y1="430" x2="278" y2="558" stroke="#625e5c" stroke-width="4"/>
<line x1="440" y1="422" x2="300" y2="555" stroke="#625e5c" stroke-width="4"/>
<polygon points="75,590 300,555 285,770 205,778 100,690" fill="#77726f"/>
<line x1="75" y1="592" x2="100" y2="690" stroke="#5a5655" stroke-width="6"/>
<line x1="95" y1="602" x2="121" y2="708" stroke="#5a5655" stroke-width="6"/>
<line x1="115" y1="611" x2="142" y2="725" stroke="#5a5655" stroke-width="6"/>
<line x1="135" y1="621" x2="163" y2="743" stroke="#5a5655" stroke-width="6"/>
<line x1="155" y1="630" x2="184" y2="760" stroke="#5a5655" stroke-width="6"/>
<line x1="175" y1="640" x2="205" y2="778" stroke="#5a5655" stroke-width="6"/>
<ellipse cx="225" cy="690" rx="45" ry="70" fill="#6a6664"/><ellipse cx="228" cy="690" rx="26" ry="42" fill="#8c8886"/>
<polygon points="725,355 875,440 860,475 780,450 740,400" fill="#7f7a78"/>
<path d="M258 745 Q262 640 300 575 Q350 480 430 440 L520 415 L720 470 L560 560 L450 735 L335 830 Z" fill="#ece9e3"/>
<path d="M300 580 L455 700" stroke="#b8b4ac" stroke-width="4" fill="none"/>
<ellipse cx="645" cy="440" rx="155" ry="85" fill="#efece6"/>
<path d="M500 470 Q640 540 800 450 L790 470 Q650 560 505 490 Z" fill="#bdb9b0"/>
<ellipse cx="540" cy="462" rx="42" ry="46" fill="#0c0c0e" transform="rotate(-25 540 462)"/>
<path d="M445 738 Q470 560 640 505 Q830 445 985 555 L1005 610 L430 840 Z" fill="url(#rbDome)"/>
<path d="M572 280 L718 280 L722 372 Q645 410 568 372 Z" fill="#2a2a2c"/>
<path d="M568 305 Q645 333 722 305" stroke="#4a4a4e" stroke-width="6" fill="none"/>
<path d="M568 330 Q645 358 722 330" stroke="#4a4a4e" stroke-width="6" fill="none"/>
<path d="M568 355 Q645 383 722 355" stroke="#4a4a4e" stroke-width="6" fill="none"/>
<path d="M473 125 Q480 215 560 262 Q640 300 720 282 Q800 250 817 128 Z" fill="url(#rbHead)"/>
<ellipse cx="645" cy="118" rx="172" ry="76" fill="#f3f1ea"/>
<ellipse cx="645" cy="112" rx="150" ry="60" fill="#f9f8f3"/>
<path d="M640 272 Q700 250 760 200 L775 215 Q720 275 660 290 Z" fill="#c9c5bb"/>
<ellipse cx="715" cy="250" rx="47" ry="24" fill="#0c0c0e" transform="rotate(-27 715 250)"/>
<path d="M300 905 Q310 860 400 795 L1000 553 Q1040 545 1070 565 L1235 672 Q1255 700 1240 735 Q1225 780 1190 795 L560 1150 Q500 1180 455 1140 L305 935 Z" fill="#8b857e"/>
<path d="M470 1085 L640 945 L1237 676 Q1255 700 1240 735 Q1225 780 1190 795 L560 1150 Q500 1180 462 1130 Z" fill="#625f5d"/>
<polygon points="400,795 1000,553 1237,676 640,945" fill="#a19a91"/>
<line x1="400" y1="795" x2="640" y2="945" stroke="#4f4c4a" stroke-width="5"/>
<line x1="432" y1="782" x2="671" y2="931" stroke="#4f4c4a" stroke-width="5"/>
<line x1="463" y1="770" x2="703" y2="917" stroke="#4f4c4a" stroke-width="5"/>
<line x1="495" y1="757" x2="734" y2="903" stroke="#4f4c4a" stroke-width="5"/>
<line x1="526" y1="744" x2="766" y2="888" stroke="#4f4c4a" stroke-width="5"/>
<line x1="558" y1="731" x2="797" y2="874" stroke="#4f4c4a" stroke-width="5"/>
<line x1="589" y1="719" x2="829" y2="860" stroke="#4f4c4a" stroke-width="5"/>
<line x1="621" y1="706" x2="860" y2="846" stroke="#4f4c4a" stroke-width="5"/>
<line x1="653" y1="693" x2="891" y2="832" stroke="#4f4c4a" stroke-width="5"/>
<line x1="684" y1="680" x2="923" y2="818" stroke="#4f4c4a" stroke-width="5"/>
<line x1="716" y1="668" x2="954" y2="803" stroke="#4f4c4a" stroke-width="5"/>
<line x1="747" y1="655" x2="986" y2="789" stroke="#4f4c4a" stroke-width="5"/>
<line x1="779" y1="642" x2="1017" y2="775" stroke="#4f4c4a" stroke-width="5"/>
<line x1="811" y1="629" x2="1048" y2="761" stroke="#4f4c4a" stroke-width="5"/>
<line x1="842" y1="617" x2="1080" y2="747" stroke="#4f4c4a" stroke-width="5"/>
<line x1="874" y1="604" x2="1111" y2="733" stroke="#4f4c4a" stroke-width="5"/>
<line x1="905" y1="591" x2="1143" y2="718" stroke="#4f4c4a" stroke-width="5"/>
<line x1="937" y1="578" x2="1174" y2="704" stroke="#4f4c4a" stroke-width="5"/>
<line x1="968" y1="566" x2="1206" y2="690" stroke="#4f4c4a" stroke-width="5"/>
<line x1="1000" y1="553" x2="1237" y2="676" stroke="#4f4c4a" stroke-width="5"/>
<line x1="400" y1="795" x2="640" y2="945" stroke="#55514f" stroke-width="6"/>
<line x1="383" y1="815" x2="612" y2="969" stroke="#55514f" stroke-width="6"/>
<line x1="367" y1="835" x2="583" y2="993" stroke="#55514f" stroke-width="6"/>
<line x1="350" y1="855" x2="555" y2="1018" stroke="#55514f" stroke-width="6"/>
<line x1="333" y1="875" x2="527" y2="1042" stroke="#55514f" stroke-width="6"/>
<line x1="317" y1="895" x2="498" y2="1066" stroke="#55514f" stroke-width="6"/>
<line x1="300" y1="915" x2="470" y2="1090" stroke="#55514f" stroke-width="6"/>
<line x1="640" y1="945" x2="636" y2="971" stroke="#4f4b4a" stroke-width="6"/>
<line x1="671" y1="931" x2="667" y2="957" stroke="#4f4b4a" stroke-width="6"/>
<line x1="703" y1="917" x2="699" y2="943" stroke="#4f4b4a" stroke-width="6"/>
<line x1="734" y1="903" x2="730" y2="929" stroke="#4f4b4a" stroke-width="6"/>
<line x1="766" y1="888" x2="762" y2="914" stroke="#4f4b4a" stroke-width="6"/>
<line x1="797" y1="874" x2="793" y2="900" stroke="#4f4b4a" stroke-width="6"/>
<line x1="829" y1="860" x2="825" y2="886" stroke="#4f4b4a" stroke-width="6"/>
<line x1="860" y1="846" x2="856" y2="872" stroke="#4f4b4a" stroke-width="6"/>
<line x1="891" y1="832" x2="887" y2="858" stroke="#4f4b4a" stroke-width="6"/>
<line x1="923" y1="818" x2="919" y2="844" stroke="#4f4b4a" stroke-width="6"/>
<line x1="954" y1="803" x2="950" y2="829" stroke="#4f4b4a" stroke-width="6"/>
<line x1="986" y1="789" x2="982" y2="815" stroke="#4f4b4a" stroke-width="6"/>
<line x1="1017" y1="775" x2="1013" y2="801" stroke="#4f4b4a" stroke-width="6"/>
<line x1="1048" y1="761" x2="1044" y2="787" stroke="#4f4b4a" stroke-width="6"/>
<line x1="1080" y1="747" x2="1076" y2="773" stroke="#4f4b4a" stroke-width="6"/>
<line x1="1111" y1="733" x2="1107" y2="759" stroke="#4f4b4a" stroke-width="6"/>
<line x1="1143" y1="718" x2="1139" y2="744" stroke="#4f4b4a" stroke-width="6"/>
<line x1="1174" y1="704" x2="1170" y2="730" stroke="#4f4b4a" stroke-width="6"/>
<line x1="1206" y1="690" x2="1202" y2="716" stroke="#4f4b4a" stroke-width="6"/>
<line x1="1237" y1="676" x2="1233" y2="702" stroke="#4f4b4a" stroke-width="6"/>
<circle cx="545" cy="1050" r="48" fill="#8f8b89"/><circle cx="545" cy="1050" r="26" fill="#6b6765"/><circle cx="545" cy="1050" r="12" fill="#9a9694"/>
<circle cx="669" cy="992" r="40" fill="#8f8b89"/><circle cx="669" cy="992" r="22" fill="#6b6765"/><circle cx="669" cy="992" r="10" fill="#9a9694"/>
<circle cx="793" cy="935" r="40" fill="#8f8b89"/><circle cx="793" cy="935" r="22" fill="#6b6765"/><circle cx="793" cy="935" r="10" fill="#9a9694"/>
<circle cx="917" cy="877" r="40" fill="#8f8b89"/><circle cx="917" cy="877" r="22" fill="#6b6765"/><circle cx="917" cy="877" r="10" fill="#9a9694"/>
<circle cx="1041" cy="820" r="40" fill="#8f8b89"/><circle cx="1041" cy="820" r="22" fill="#6b6765"/><circle cx="1041" cy="820" r="10" fill="#9a9694"/>
<circle cx="1165" cy="762" r="48" fill="#8f8b89"/><circle cx="1165" cy="762" r="26" fill="#6b6765"/><circle cx="1165" cy="762" r="12" fill="#9a9694"/>
<circle cx="607" cy="1048" r="24" fill="#7d7977"/>
<circle cx="731" cy="991" r="24" fill="#7d7977"/>
<circle cx="855" cy="933" r="24" fill="#7d7977"/>
<circle cx="979" cy="875" r="24" fill="#7d7977"/>
<circle cx="1103" cy="818" r="24" fill="#7d7977"/>
<path d="M462 1130 Q500 1180 560 1150 L1190 795 Q1225 780 1240 735" stroke="#5a5654" stroke-width="10" fill="none"/>
</g>
<!--/ROBOT-->
</svg>
</body></html>
